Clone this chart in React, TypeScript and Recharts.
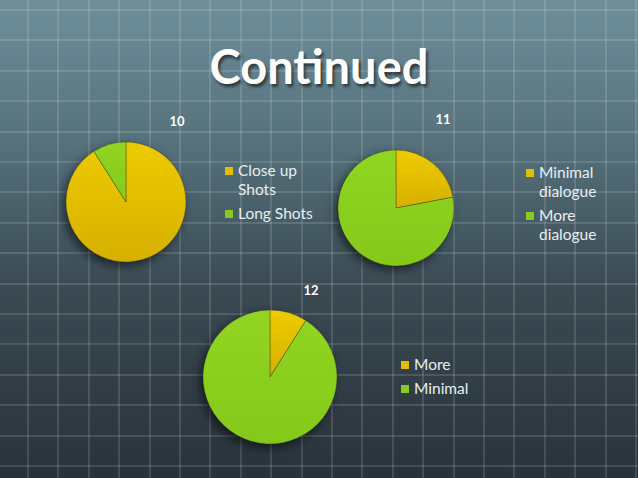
import React from "react";
import { PieChart, Pie, Cell, Legend } from "recharts";

// ─── Data ────────────────────────────────────────────────────────────────────

const shotsNames = ["Close up Shots", "Long Shots"];
const shotsValues = [91, 9];

const dialogueNames = ["Minimal dialogue", "More dialogue"];
const dialogueValues = [22, 78];

const amountNames = ["More", "Minimal"];
const amountValues = [9, 91];

const chartTitles = ["10", "11", "12"];

const toRows = (names: string[], values: number[]) =>
  names.map((name, i) => ({ name, value: values[i] }));

// ─── Styles ──────────────────────────────────────────────────────────────────

const FONT = "Lato, 'Open Sans', sans-serif";
const YELLOW = "url(#gradYellow)";
const GREEN = "url(#gradGreen)";
const YELLOW_KEY = "#E2BE00";
const GREEN_KEY = "#86CC1C";

const PageStyles = () => (
  <style>{`
    body { margin: 0; }
    .pie-box .recharts-surface { filter: drop-shadow(-3px 4px 5px rgba(0,0,0,0.55)); overflow: visible; }
  `}</style>
);

const Gradients = () => (
  <defs>
    <linearGradient id="gradYellow" x1="0" y1="0" x2="0" y2="1">
      <stop offset="0%" stopColor="#EDCB00" />
      <stop offset="100%" stopColor="#D6B000" />
    </linearGradient>
    <linearGradient id="gradGreen" x1="0" y1="0" x2="0" y2="1">
      <stop offset="0%" stopColor="#92D622" />
      <stop offset="100%" stopColor="#84C81A" />
    </linearGradient>
  </defs>
);

// legend is built from the chart's own arrays so the order stays as in the data
const renderLegend = (names: string[], keyColors: string[], width: number) => () => (
  <ul style={{ listStyle: "none", margin: 0, padding: 0, width }}>
    {names.map((name, i) => (
      <li
        key={`item-${i}`}
        style={{
          display: "flex",
          alignItems: "flex-start",
          marginBottom: 5,
          fontFamily: FONT,
          fontSize: 15.5,
          lineHeight: "19px",
          color: "#E9EEF0",
        }}
      >
        <span
          style={{
            display: "inline-block",
            width: 8,
            height: 8,
            marginTop: 6,
            marginRight: 5,
            flex: "0 0 8px",
            background: keyColors[i],
          }}
        />
        <span>{name}</span>
      </li>
    ))}
  </ul>
);

// ─── Single pie card ─────────────────────────────────────────────────────────

type PieCardProps = {
  title: string;
  names: string[];
  values: number[];
  fills: string[];
  keyColors: string[];
  left: number;
  top: number;
  cx: number;
  cy: number;
  radius: number;
  titleX: number;
  titleY: number;
  legendX: number;
  legendY: number;
  legendWidth: number;
};

const PieCard = (p: PieCardProps) => {
  const rows = toRows(p.names, p.values);
  return (
    <div className="pie-box" style={{ position: "absolute", left: p.left, top: p.top }}>
      <div
        style={{
          position: "absolute",
          left: p.titleX - 20,
          top: p.titleY - 9,
          width: 40,
          textAlign: "center",
          fontFamily: FONT,
          fontWeight: 700,
          fontSize: 13,
          lineHeight: "18px",
          color: "#FFFFFF",
          zIndex: 2,
        }}
      >
        {p.title}
      </div>
      <PieChart width={300} height={200} margin={{ top: 0, right: 0, bottom: 0, left: 0 }}>
        <Gradients />
        <Pie
          data={rows}
          dataKey="value"
          nameKey="name"
          cx={p.cx}
          cy={p.cy}
          outerRadius={p.radius}
          startAngle={90}
          endAngle={-270}
          stroke="rgba(40,50,20,0.6)"
          strokeWidth={0.6}
          isAnimationActive={false}
        >
          {rows.map((_row, i) => (
            <Cell key={`cell-${i}`} fill={p.fills[i]} />
          ))}
        </Pie>
        <Legend
          layout="vertical"
          content={renderLegend(p.names, p.keyColors, p.legendWidth)}
          wrapperStyle={{ left: p.legendX, top: p.legendY, width: p.legendWidth }}
        />
      </PieChart>
    </div>
  );
};

// ─── Slide ───────────────────────────────────────────────────────────────────

export default function App() {
  const gridLines =
    "repeating-linear-gradient(90deg, rgba(255,255,255,0) 0px, rgba(255,255,255,0) 27px, rgba(255,255,255,0.13) 27px, rgba(255,255,255,0.13) 29px, rgba(255,255,255,0) 29px, rgba(255,255,255,0) 30.4px)," +
    "repeating-linear-gradient(180deg, rgba(255,255,255,0) 0px, rgba(255,255,255,0) 9px, rgba(255,255,255,0.13) 9px, rgba(255,255,255,0.13) 11px, rgba(255,255,255,0) 11px, rgba(255,255,255,0) 30.4px)";

  return (
    <div
      style={{
        position: "relative",
        width: 638,
        height: 478,
        overflow: "hidden",
        background: `${gridLines}, linear-gradient(180deg, #6E8F9A 0%, #55717C 30%, #3A4A53 60%, #29323A 100%)`,
      }}
    >
      <PageStyles />
      <div
        style={{
          position: "absolute",
          left: 0,
          top: 38,
          width: 638,
          textAlign: "center",
          fontFamily: FONT,
          fontWeight: 700,
          fontSize: 47,
          lineHeight: "56px",
          color: "#FFFFFF",
          textShadow: "2px 3px 3px rgba(0,0,0,0.55)",
        }}
      >
        Continued
      </div>

      <PieCard
        title={chartTitles[0]}
        names={shotsNames}
        values={shotsValues}
        fills={[YELLOW, GREEN]}
        keyColors={[YELLOW_KEY, GREEN_KEY]}
        left={40}
        top={100}
        cx={86}
        cy={102}
        radius={60}
        titleX={137}
        titleY={21}
        legendX={185}
        legendY={61}
        legendWidth={100}
      />
      <PieCard
        title={chartTitles[1]}
        names={dialogueNames}
        values={dialogueValues}
        fills={[YELLOW, GREEN]}
        keyColors={[YELLOW_KEY, GREEN_KEY]}
        left={320}
        top={100}
        cx={76}
        cy={108}
        radius={58}
        titleX={123}
        titleY={19}
        legendX={206}
        legendY={63}
        legendWidth={90}
      />
      <PieCard
        title={chartTitles[2]}
        names={amountNames}
        values={amountValues}
        fills={[YELLOW, GREEN]}
        keyColors={[YELLOW_KEY, GREEN_KEY]}
        left={180}
        top={270}
        cx={90}
        cy={107}
        radius={67}
        titleX={131}
        titleY={20}
        legendX={221}
        legendY={85}
        legendWidth={100}
      />
    </div>
  );
}
